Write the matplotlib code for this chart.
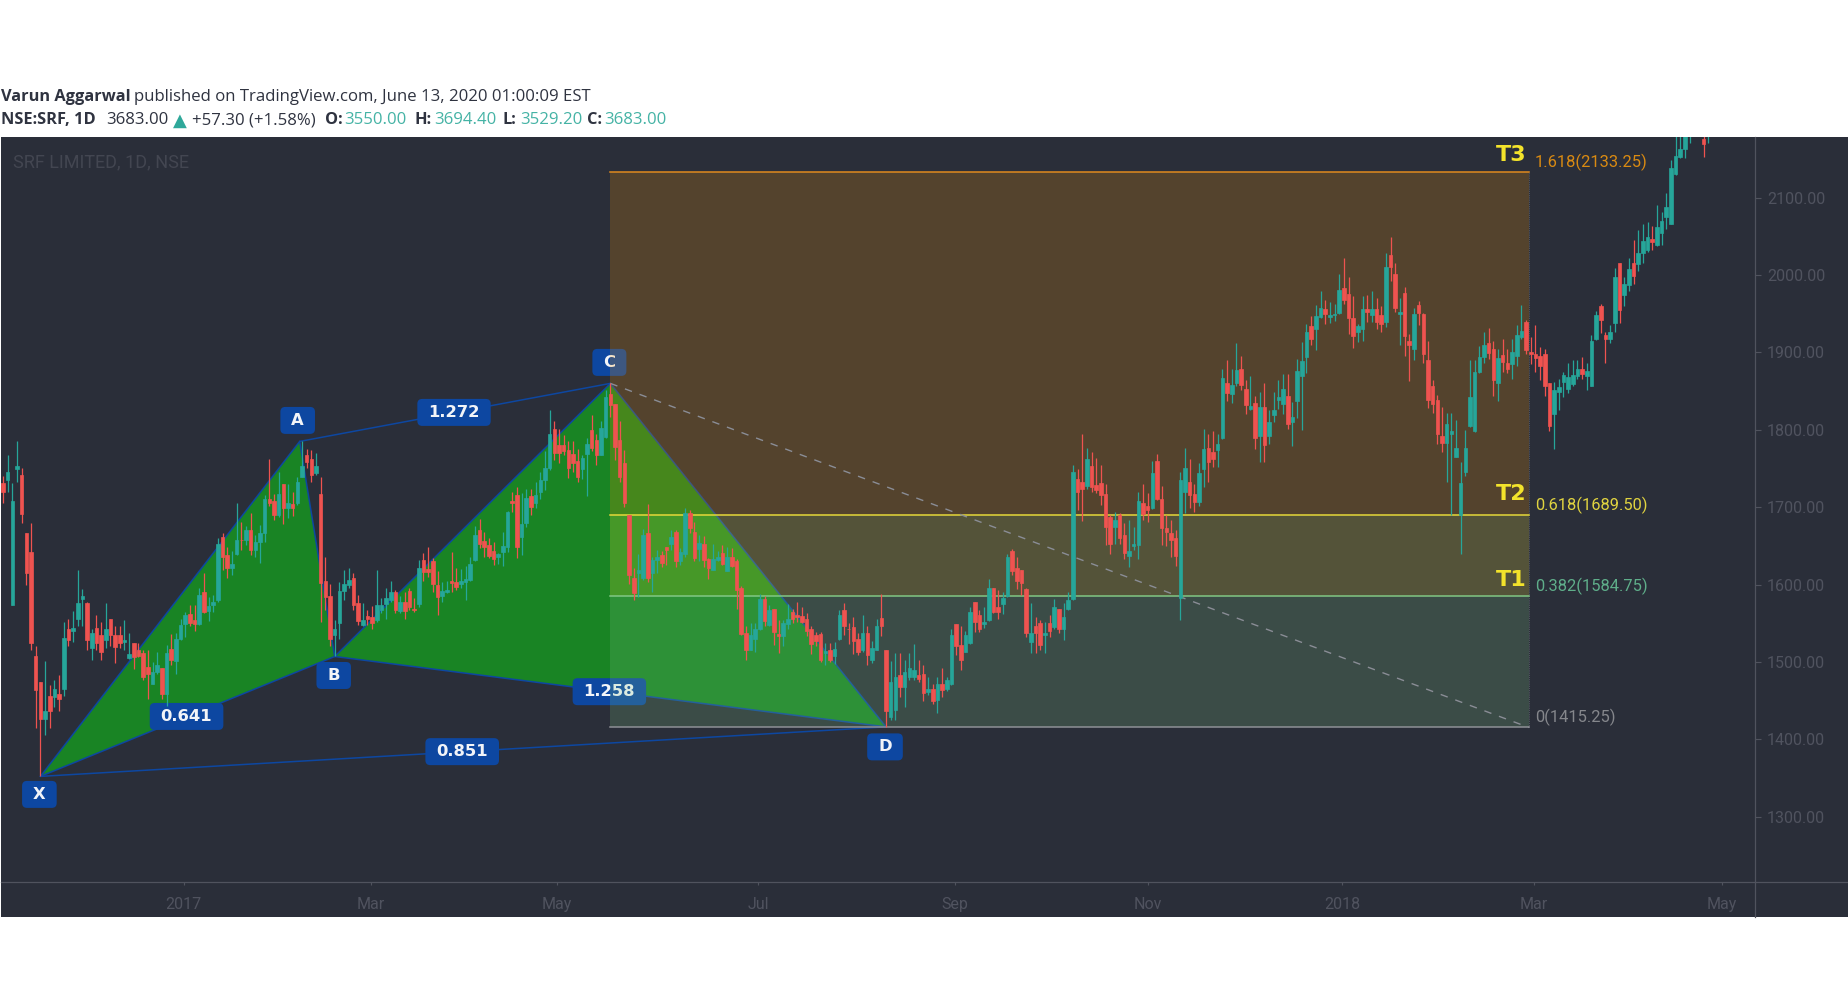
import numpy as np
import matplotlib
matplotlib.use("Agg")
import matplotlib.pyplot as plt
from matplotlib.lines import Line2D
from matplotlib.patches import Rectangle, BoxStyle

# ---- candle data (R = falling, T = rising)
directions = (
    "RTTTRRRRRT" "RTRTRTTTRT" "RRTRRRTTRR" "RRTTRTRTTT" "RRTRTTTRRT"
    "TRTRTTTRRT" "RTRTTRRTRR" "RTTTTRRTRR" "TTTTRTRRRT" "RRRRTTRRTT"
    "TTRRRRTTTR" "RTTRTTTTRR" "RRRRTTRRTT" "RRRRRRTTRT" "TRRTRTTRRT"
    "RRTTRTRRRR" "TTTRTRRTTR" "RRRRRRTRTT" "RRRRTRTTRR" "TTRTTTRRTR"
    "TRTTRRTTRR" "TTRRTTRRRR" "TRRTRTRTTT" "RRTRRRRRTR" "RTTTRRTRRR"
    "RRTTRRTTRR" "TTRTTRRTRT" "RTTTTRTTTT" "RTTRTTTRRR" "TTRTRRTRRT"
    "RRTRRRRRRT" "TTTTTTTTRR" "TRRTTTRRRR" "RRTTTTTTRT" "TTRRTTRTTR"
    "TTTRTTTTTT" "TTTTRT"
)
body_tops = [
    1731,1746,1708,1753,1742,1667,1642,1508,1474,1437,
    1456,1465,1458,1531,1542,1544,1576,1585,1576,1537,
    1544,1535,1542,1556,1535,1535,1528,1510,1524,1515,
    1512,1494,1487,1496,1492,1512,1517,1530,1548,1560,
    1562,1554,1586,1590,1572,1578,1652,1662,1638,1626,
    1658,1658,1670,1670,1655,1666,1711,1711,1708,1717,
    1730,1705,1704,1732,1753,1767,1762,1753,1717,1605,
    1585,1543,1592,1601,1606,1608,1576,1554,1559,1558,
    1574,1574,1582,1590,1590,1578,1578,1592,1569,1622,
    1632,1620,1630,1599,1592,1593,1605,1603,1604,1607,
    1627,1664,1670,1656,1651,1644,1640,1650,1694,1708,
    1716,1678,1712,1714,1716,1735,1751,1795,1801,1781,
    1781,1774,1769,1760,1763,1782,1800,1787,1802,1843,
    1846,1833,1787,1757,1690,1608,1619,1664,1666,1632,
    1635,1638,1648,1662,1668,1642,1692,1692,1668,1654,
    1653,1633,1633,1635,1641,1635,1635,1630,1596,1537,
    1535,1543,1581,1581,1567,1568,1536,1550,1556,1564,
    1561,1559,1556,1543,1535,1536,1514,1515,1517,1561,
    1567,1543,1545,1529,1538,1538,1518,1546,1557,1515,
    1474,1481,1483,1487,1492,1490,1483,1484,1465,1465,
    1472,1471,1477,1535,1549,1522,1535,1564,1577,1561,
    1551,1596,1595,1571,1583,1635,1643,1621,1619,1594,
    1537,1546,1550,1538,1550,1571,1568,1558,1580,1746,
    1737,1732,1762,1753,1729,1731,1717,1687,1683,1690,
    1664,1644,1652,1708,1706,1701,1744,1760,1711,1673,
    1667,1660,1735,1751,1733,1717,1744,1775,1776,1771,
    1782,1867,1861,1858,1877,1879,1853,1831,1835,1829,
    1829,1810,1826,1842,1853,1844,1817,1876,1889,1927,
    1934,1947,1958,1956,1949,1950,1981,1983,1975,1945,
    1934,1956,1956,1956,1956,1949,2010,2026,2002,1952,
    1977,1915,1950,1961,1950,1890,1856,1838,1792,1807,
    1799,1776,1731,1777,1843,1875,1894,1909,1912,1904,
    1893,1897,1887,1901,1923,1928,1939,1901,1898,1896,
    1898,1860,1851,1855,1871,1868,1871,1879,1878,1876,
    1915,1948,1960,1923,1926,1997,2015,1989,2008,2015,
    2029,2044,2049,2047,2062,2070,2088,2139,2154,2163,
    2187,2210,2220,2225,2176,2205,
]
body_bottoms = [
    1719,1735,1573,1749,1691,1615,1524,1464,1426,1426,
    1437,1455,1452,1465,1528,1540,1556,1581,1528,1518,
    1524,1513,1528,1535,1519,1524,1526,1505,1506,1508,
    1481,1484,1472,1487,1459,1459,1502,1501,1529,1549,
    1550,1549,1549,1565,1566,1573,1580,1635,1621,1621,
    1640,1657,1657,1645,1645,1655,1667,1706,1690,1690,
    1699,1699,1699,1706,1739,1759,1742,1744,1602,1584,
    1530,1535,1550,1592,1599,1573,1553,1548,1556,1550,
    1554,1567,1575,1580,1567,1566,1566,1571,1567,1575,
    1616,1616,1601,1584,1585,1591,1602,1597,1601,1603,
    1606,1632,1653,1649,1637,1633,1635,1642,1649,1705,
    1649,1662,1679,1700,1705,1719,1735,1750,1770,1770,
    1773,1750,1757,1739,1749,1769,1776,1767,1767,1791,
    1832,1778,1739,1706,1612,1589,1615,1608,1608,1615,
    1632,1628,1645,1653,1630,1630,1640,1673,1634,1646,
    1632,1622,1619,1632,1626,1618,1624,1593,1536,1515,
    1515,1530,1542,1553,1548,1539,1534,1533,1549,1556,
    1558,1552,1540,1523,1527,1503,1512,1502,1507,1530,
    1546,1542,1527,1513,1515,1509,1502,1516,1547,1436,
    1429,1438,1468,1468,1480,1480,1478,1460,1461,1450,
    1451,1464,1465,1471,1520,1502,1513,1524,1551,1543,
    1549,1554,1565,1565,1575,1585,1617,1604,1602,1537,
    1526,1537,1522,1535,1540,1545,1543,1542,1568,1581,
    1719,1724,1727,1726,1722,1716,1675,1653,1675,1660,
    1641,1637,1650,1651,1691,1696,1699,1710,1673,1668,
    1658,1637,1582,1719,1716,1707,1707,1749,1759,1762,
    1774,1790,1848,1846,1860,1858,1832,1827,1790,1792,
    1780,1792,1819,1838,1834,1808,1810,1837,1869,1894,
    1917,1930,1946,1950,1946,1948,1951,1968,1945,1921,
    1927,1930,1952,1949,1939,1937,1939,2011,1958,1950,
    1921,1910,1905,1951,1898,1838,1833,1794,1783,1783,
    1794,1765,1690,1746,1805,1799,1875,1894,1899,1864,
    1861,1888,1878,1885,1895,1920,1903,1898,1893,1882,
    1857,1805,1820,1849,1862,1853,1859,1869,1872,1869,
    1857,1917,1942,1917,1917,1938,1955,1974,1987,1999,
    2014,2028,2032,2043,2039,2054,2075,2066,2131,2153,
    2163,2190,2205,2210,2169,2190,
]
highs = [
    1740,1767,1731,1785,1751,1667,1679,1520,1474,1501,
    1470,1477,1483,1551,1556,1566,1619,1594,1578,1543,
    1560,1551,1576,1556,1547,1546,1554,1538,1524,1525,
    1516,1515,1500,1513,1492,1522,1536,1537,1556,1565,
    1574,1574,1595,1615,1584,1586,1660,1667,1649,1644,
    1706,1681,1676,1693,1664,1677,1716,1762,1717,1746,
    1730,1730,1720,1739,1785,1775,1774,1770,1739,1635,
    1601,1554,1603,1619,1621,1615,1587,1576,1567,1572,
    1619,1582,1595,1604,1593,1585,1591,1595,1582,1632,
    1641,1648,1634,1617,1603,1604,1642,1621,1620,1624,
    1636,1676,1685,1668,1660,1655,1641,1668,1695,1719,
    1726,1718,1724,1724,1733,1745,1772,1826,1811,1801,
    1793,1785,1786,1775,1767,1790,1819,1795,1811,1851,
    1860,1833,1811,1774,1690,1621,1640,1672,1704,1636,
    1645,1644,1649,1671,1671,1647,1699,1696,1681,1664,
    1663,1634,1653,1643,1651,1649,1647,1633,1598,1546,
    1550,1550,1588,1585,1574,1568,1554,1554,1575,1569,
    1578,1571,1563,1546,1539,1539,1524,1524,1526,1567,
    1576,1550,1558,1538,1560,1546,1527,1556,1588,1515,
    1501,1511,1511,1502,1511,1523,1502,1496,1481,1472,
    1481,1492,1481,1543,1549,1546,1540,1571,1578,1567,
    1571,1607,1595,1593,1591,1639,1646,1635,1619,1596,
    1576,1558,1554,1551,1561,1581,1569,1576,1590,1754,
    1749,1795,1776,1771,1764,1755,1730,1690,1694,1693,
    1679,1683,1674,1720,1730,1718,1760,1769,1727,1690,
    1684,1670,1746,1777,1762,1730,1757,1801,1795,1799,
    1794,1878,1890,1879,1912,1895,1865,1869,1844,1849,
    1860,1825,1849,1864,1872,1872,1836,1892,1914,1937,
    1947,1961,1979,1968,1965,1962,2001,2022,1997,1973,
    1937,1973,1974,1979,1970,1960,2028,2049,2015,1971,
    1985,1924,1958,1967,1951,1915,1865,1845,1830,1822,
    1822,1813,1758,1800,1890,1890,1908,1926,1931,1915,
    1904,1917,1904,1918,1935,1961,1942,1920,1935,1907,
    1904,1860,1862,1866,1875,1887,1890,1890,1894,1887,
    1923,1953,1963,1927,1935,2009,2015,1998,2022,2045,
    2058,2066,2069,2063,2091,2082,2106,2149,2190,2190,
    2195,2215,2225,2230,2200,2210,
]
lows = [
    1705,1719,1573,1732,1680,1599,1515,1415,1352,1405,
    1415,1442,1437,1456,1521,1526,1547,1546,1515,1502,
    1515,1502,1518,1521,1499,1518,1515,1504,1491,1506,
    1477,1452,1472,1485,1452,1443,1496,1485,1528,1532,
    1546,1540,1548,1563,1553,1565,1578,1619,1609,1612,
    1638,1645,1651,1638,1636,1628,1655,1701,1684,1687,
    1678,1686,1688,1703,1739,1751,1732,1742,1552,1567,
    1521,1507,1530,1580,1595,1567,1548,1547,1548,1543,
    1552,1563,1555,1578,1563,1563,1556,1567,1564,1571,
    1604,1610,1591,1561,1577,1589,1591,1593,1595,1580,
    1604,1630,1647,1636,1634,1625,1627,1624,1642,1694,
    1634,1638,1675,1690,1699,1710,1722,1748,1761,1757,
    1767,1738,1746,1732,1736,1714,1772,1754,1767,1789,
    1816,1761,1732,1700,1601,1580,1584,1606,1603,1591,
    1615,1623,1625,1645,1623,1625,1636,1666,1630,1630,
    1623,1607,1619,1630,1625,1618,1623,1569,1535,1503,
    1515,1513,1541,1546,1546,1522,1511,1520,1543,1550,
    1552,1550,1533,1510,1520,1500,1496,1500,1497,1528,
    1535,1523,1510,1509,1513,1496,1498,1515,1533,1416,
    1425,1425,1455,1442,1477,1477,1474,1450,1457,1446,
    1434,1455,1462,1470,1509,1490,1513,1523,1539,1539,
    1544,1553,1563,1555,1562,1584,1612,1594,1587,1532,
    1511,1512,1515,1511,1532,1543,1537,1528,1567,1580,
    1696,1682,1724,1719,1718,1703,1651,1639,1653,1653,
    1633,1623,1645,1633,1684,1681,1698,1709,1651,1650,
    1636,1624,1554,1692,1699,1694,1701,1726,1732,1752,
    1752,1788,1837,1835,1857,1851,1821,1826,1775,1759,
    1759,1782,1810,1827,1821,1801,1779,1815,1800,1873,
    1909,1903,1945,1937,1938,1941,1950,1963,1924,1906,
    1914,1915,1940,1940,1930,1927,1933,1993,1952,1909,
    1895,1863,1890,1935,1887,1828,1822,1782,1771,1733,
    1690,1765,1640,1740,1804,1797,1873,1887,1891,1844,
    1837,1875,1873,1866,1882,1917,1898,1885,1875,1864,
    1844,1798,1775,1825,1843,1848,1856,1866,1866,1851,
    1856,1916,1925,1887,1912,1926,1938,1960,1980,1988,
    2005,2015,2030,2032,2038,2039,2060,2066,2130,2151,
    2151,2171,2200,2205,2153,2171,
]

# ---- harmonic pattern pivots (bar number, price)
pivot_names = ["X", "A", "B", "C", "D"]
pivot_bars = [8, 63.5, 71, 130, 189]
pivot_prices = [1352, 1785, 1507, 1860, 1416]
ratio_labels = ["0.641", "1.272", "1.258", "0.851"]

# ---- fibonacci levels
fib_ratios = ["1.618", "0.618", "0.382", "0"]
fib_levels = [2133.25, 1689.50, 1584.75, 1415.25]
fib_names = ["T3", "T2", "T1", None]
fib_start_bar = 130
fib_end_bar = 326.6

# ---- axes
price_ticks = [1300, 1400, 1500, 1600, 1700, 1800, 1900, 2000, 2100]
time_tick_bars = [38.7, 78.8, 118.6, 161.7, 203.8, 245, 286.7, 327.6, 367.9]
time_tick_labels = ["2017", "Mar", "May", "Jul", "Sep", "Nov", "2018", "Mar", "May"]

BG = "#2A2E39"
TEAL = "#26A69A"
RED = "#EF5350"
AXIS = "#50535E"
AXTEXT = "#50535F"
BLUE = "#0D47A1"
GREEN = "#198424"
FIB_FILL = ["#FF9800", "#FFEB3B", "#81C784"]
FIB_LINE = ["#E08A1E", "#E6D83A", "#81C784", "#8E9096"]
FIB_TEXT = ["#D98A12", "#E0D340", "#5FAE8A", "#85878C"]
SANS = ["Roboto", "DejaVu Sans"]

W, H = 1848, 996
fig = plt.figure(figsize=(W / 100, H / 100), dpi=100, facecolor="white")


def fx(x):
    return x / W


def fy(y):
    return 1 - y / H


# dark panel behind everything
fig.add_artist(Rectangle((fx(1), fy(917)), fx(1847), 780 / H, transform=fig.transFigure,
                         facecolor=BG, edgecolor="none", zorder=-5))

ax = fig.add_axes([fx(1), fy(882), 1754 / W, 745 / H], facecolor=BG)
ax.set_xlim(-0.43, 375.0)
ax.set_ylim(1215.5, 2178.5)

bars = np.arange(len(directions))
tops = np.array(body_tops, float)
bots = np.array(body_bottoms, float)
hi = np.array(highs, float)
lo = np.array(lows, float)
cols = [TEAL if d == "T" else RED for d in directions]

# wicks and bodies
ax.vlines(bars, lo, hi, colors=cols, linewidth=0.9, zorder=4)
ax.bar(bars, tops - bots, bottom=bots, width=0.76, color=cols, edgecolor=cols,
       linewidth=0.5, zorder=4.1)

# harmonic pattern
px_, py_ = pivot_bars, pivot_prices
ax.fill([px_[0], px_[1], px_[2]], [py_[0], py_[1], py_[2]], color=GREEN, lw=0, zorder=2)
ax.fill([px_[2], px_[3], px_[4]], [py_[2], py_[3], py_[4]], color=GREEN, lw=0, zorder=2)
segments = [(0, 1), (1, 2), (2, 0), (2, 3), (3, 4), (4, 2), (1, 3), (0, 4)]
for a, b in segments:
    ax.plot([px_[a], px_[b]], [py_[a], py_[b]], color=BLUE, lw=1.1, zorder=2.2,
            solid_capstyle="round")


def label_box(padx, pady):
    style = BoxStyle("Round", pad=0, rounding_size=0.3)

    def make(x, y, w, h, m):
        return style(x - padx, y - pady, w + 2 * padx, h + 2 * pady, m)
    return make


def tag(xy, text, offset=(0, 0)):
    ax.annotate(text, xy=xy, xytext=offset, textcoords="offset pixels", ha="center",
                va="center", color="#F2F4F8", fontsize=11.8, fontweight="bold",
                family="DejaVu Sans", zorder=2.5,
                bbox=dict(boxstyle=label_box(11, 6), facecolor=BLUE, edgecolor="none"))


for name, bx, pr, off in zip(pivot_names, pivot_bars, pivot_prices,
                             [(-1, -18), (-2, 21), (-1, -19), (-1, 21), (-1, -20)]):
    tag((bx, pr), name, off)
for (a, b), text in zip([(0, 2), (1, 3), (2, 4), (0, 4)], ratio_labels):
    tag(((px_[a] + px_[b]) / 2, (py_[a] + py_[b]) / 2), text, (-1, 0))

# fibonacci bands, laid over the pattern
for k in range(3):
    ax.fill_between([fib_start_bar, fib_end_bar], fib_levels[k + 1], fib_levels[k],
                    color=FIB_FILL[k], alpha=0.2, lw=0, zorder=3)
ax.plot([fib_end_bar, fib_end_bar], [fib_levels[3], fib_levels[0]], color="#787B86",
        lw=0.5, ls=":", zorder=3.1)
for lvl, col in zip(fib_levels, FIB_LINE):
    ax.plot([fib_start_bar, fib_end_bar], [lvl, lvl], color=col, lw=1.1, zorder=3.2)
ax.plot([fib_start_bar, fib_end_bar], [pivot_prices[3], fib_levels[3]], color="#8A8D96",
        lw=1.0, ls=(0, (5.4, 5.8)), zorder=3.3)

for ratio, lvl, col in zip(fib_ratios, fib_levels, FIB_TEXT):
    ax.annotate(f"{ratio}({lvl:.2f})", xy=(fib_end_bar, lvl), xytext=(6, 10),
                textcoords="offset pixels", ha="left", va="center", color=col,
                fontsize=11.9, family=SANS, zorder=5, annotation_clip=False)
for name, lvl, dy in zip(fib_names, fib_levels, [17, 21, 16, 0]):
    if name:
        ax.annotate(name, xy=(fib_end_bar, lvl), xytext=(-2, dy), textcoords="offset pixels",
                    ha="right", va="center", color="#F3E32B", fontsize=16,
                    fontweight="bold", family="DejaVu Sans", zorder=5)

# axes furniture
for s in ("top", "left"):
    ax.spines[s].set_visible(False)
for s in ("bottom", "right"):
    ax.spines[s].set_color(AXIS)
    ax.spines[s].set_linewidth(0.9)
ax.yaxis.tick_right()
ax.set_yticks(price_ticks)
ax.set_yticklabels([f"{p:.2f}" for p in price_ticks], fontsize=11.5, color=AXTEXT, family=SANS)
ax.set_xticks(time_tick_bars)
ax.set_xticklabels(time_tick_labels, fontsize=11.5, color=AXTEXT, family=SANS)
ax.tick_params(axis="y", length=4.5, width=0.8, color=AXIS, pad=4)
ax.tick_params(axis="x", length=2.5, width=0.8, color=AXIS, pad=8)

fig.add_artist(Line2D([fx(1755), fx(1847)], [fy(882), fy(882)], color=AXIS, lw=0.9))
fig.add_artist(Line2D([fx(1755), fx(1755)], [fy(882), fy(917)], color=AXIS, lw=0.9))

ax.text(0.0068, 0.9655, "SRF LIMITED, 1D, NSE", transform=ax.transAxes, ha="left", va="center",
        color="#434651", fontsize=13, family=SANS, zorder=5)

# header


def head(x, y, text, color="#2A2E39", weight="normal", size=12.1):
    fig.text(fx(x), fy(y), text, color=color, fontsize=size, fontweight=weight,
             ha="left", va="center", family=["Open Sans", "DejaVu Sans"])


HT = "#2F3340"
HG = "#45B3A5"
head(1, 97, "Varun Aggarwal", HT, "bold", 11.8)
head(134, 97, "published on TradingView.com, June 13, 2020 01:00:09 EST", HT)
head(1, 120.5, "NSE:SRF, 1D", HT, "bold", 11.8)
head(106, 120.5, "3683.00", HT)
head(173, 120.5, "\u25B2", "#2FA89A", size=13)
head(192, 120.5, "+57.30 (+1.58%)", HT)
for x_lab, lab, x_val, val in [(325, "O:", 344, "3550.00"), (414, "H:", 434, "3694.40"),
                               (502, "L:", 520, "3529.20"), (587, "C:", 604, "3683.00")]:
    head(x_lab, 120.5, lab, HT, "bold", 11.8)
    head(x_val, 120.5, val, HG)

fig.savefig("out.png", dpi=100, facecolor="white")
